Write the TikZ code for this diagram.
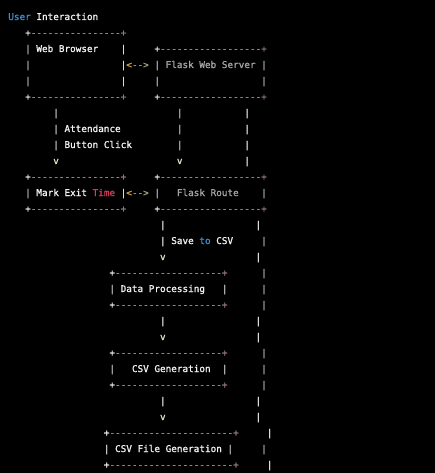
\documentclass[tikz,border=0pt]{standalone}
\usepackage{fontspec}
\setmonofont[FakeBold=1.2]{DejaVu Sans Mono}
\definecolor{bgc}{HTML}{000000}
\definecolor{wc}{HTML}{F2F2F2}
\definecolor{pipec}{HTML}{DCDCDC}
\definecolor{dashc}{HTML}{8A8A8A}
\definecolor{endc}{HTML}{947C7C}
\definecolor{greyt}{HTML}{A4A4A4}
\definecolor{bluec}{HTML}{3A8FD8}
\definecolor{redc}{HTML}{D23A5C}
\definecolor{ltc}{HTML}{C8A24A}
\definecolor{arrc}{HTML}{A8A088}
\definecolor{vc}{HTML}{E6E2CC}
\tikzset{ch/.style={anchor=base west,inner sep=0pt,outer sep=0pt,text=wc,
  font=\ttfamily\fontsize{9.335}{11}\selectfont}}
\newcommand\putt[3]{\node[ch] (t#1x#2) at ({8.3+5.62*#1},{-20-16*#2}) {#3};}
\newcommand\pp{\textcolor{pipec}{|}}
\newcommand\vv{\textcolor{vc}{v}}
\newcommand\lrarr{\textcolor{ltc}{<}\textcolor{dashc}{--}\textcolor{arrc}{>}}
\newcommand\da{\textcolor{dashc}{----------------}}
\newcommand\db{\textcolor{dashc}{------------------}}
\newcommand\dc{\textcolor{dashc}{-------------------}}
\newcommand\dd{\textcolor{dashc}{----------------------}}
\newcommand\ep{\textcolor{endc}{+}}
\begin{document}
\begin{tikzpicture}[x=1pt,y=1pt]
\fill[bgc] (0,0) rectangle (435,-473);
\useasboundingbox (0,0) rectangle (435,-473);
% line 0
\putt{0}{0}{\textcolor{bluec}{User} Interaction}
% line 1
\putt{3}{1}{+\da\ep}
% line 2
\putt{3}{2}{\pp{} Web Browser}
\putt{20}{2}{\pp}
\putt{26}{2}{+\db\ep}
% line 3
\putt{3}{3}{\pp}
\putt{20}{3}{\pp\lrarr}
\putt{26}{3}{\pp{} \textcolor{greyt}{Flask Web Server}}
\putt{45}{3}{\pp}
% line 4
\putt{3}{4}{\pp}
\putt{20}{4}{\pp}
\putt{26}{4}{\pp}
\putt{45}{4}{\pp}
% line 5
\putt{3}{5}{+\da\ep}
\putt{26}{5}{+\db\ep}
% lines 6-9
\putt{8}{6}{\pp}
\putt{30}{6}{\pp}
\putt{42}{6}{\pp}
\putt{8}{7}{\pp{} Attendance}
\putt{30}{7}{\pp}
\putt{42}{7}{\pp}
\putt{8}{8}{\pp{} Button Click}
\putt{30}{8}{\pp}
\putt{42}{8}{\pp}
\putt{8}{9}{\vv}
\putt{30}{9}{\vv}
\putt{42}{9}{\pp}
% line 10
\putt{3}{10}{+\da\ep}
\putt{26}{10}{+\db\ep}
% line 11
\putt{3}{11}{\pp{} Mark Exit \textcolor{redc}{Time}}
\putt{20}{11}{\pp\lrarr}
\putt{26}{11}{\pp}
\putt{30}{11}{\textcolor{greyt}{Flask Route}}
\putt{45}{11}{\pp}
% line 12
\putt{3}{12}{+\da\ep}
\putt{26}{12}{+\db\ep}
% line 13-15
\putt{27}{13}{\pp}
\putt{44}{13}{\pp}
\putt{27}{14}{\pp{} Save \textcolor{bluec}{to} CSV}
\putt{45}{14}{\pp}
\putt{27}{15}{\vv}
\putt{44}{15}{\pp}
% Data Processing box
\putt{18}{16}{+\dc\ep}
\putt{45}{16}{\pp}
\putt{18}{17}{\pp{} Data Processing}
\putt{38}{17}{\pp}
\putt{45}{17}{\pp}
\putt{18}{18}{+\dc\ep}
\putt{45}{18}{\pp}
\putt{27}{19}{\pp}
\putt{44}{19}{\pp}
\putt{27}{20}{\vv}
\putt{44}{20}{\pp}
% CSV Generation box
\putt{18}{21}{+\dc\ep}
\putt{45}{21}{\pp}
\putt{18}{22}{\pp}
\putt{22}{22}{CSV Generation}
\putt{38}{22}{\pp}
\putt{45}{22}{\pp}
\putt{18}{23}{+\dc\ep}
\putt{45}{23}{\pp}
\putt{27}{24}{\pp}
\putt{44}{24}{\pp}
\putt{27}{25}{\vv}
\putt{44}{25}{\pp}
% CSV File Generation box
\putt{17}{26}{+\dd\ep}
\putt{46}{26}{\pp}
\putt{17}{27}{\pp{} CSV File Generation \pp}
\putt{45}{27}{\pp}
\putt{17}{28}{+\dd\ep}
\putt{46}{28}{\pp}
\end{tikzpicture}
\end{document}
